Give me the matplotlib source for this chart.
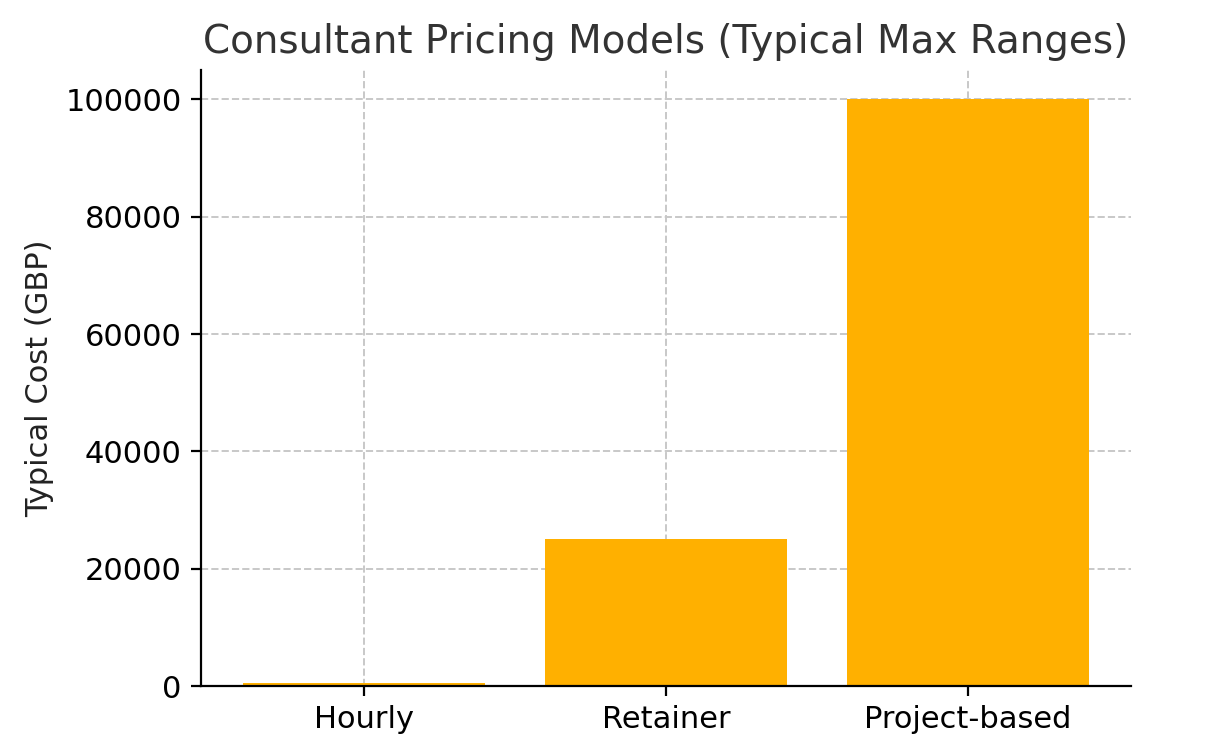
import matplotlib
matplotlib.use("Agg")
import matplotlib.pyplot as plt

categories = ["Hourly", "Retainer", "Project-based"]
values = [500, 25000, 100000]

fig = plt.figure(figsize=(6.08, 3.745), dpi=200)
ax = fig.add_axes([201/1216, 1-686/749, (1131-201)/1216, (686-70)/749])
ax.bar(categories, values, color="#FFB000", width=0.8, zorder=2)
ax.set_ylim(0, 105000)
ax.set_title("Consultant Pricing Models (Typical Max Ranges)", fontsize=14, color="#333333")
ax.set_ylabel("Typical Cost (GBP)", fontsize=11, color="#222222")
ax.tick_params(labelsize=11)
ax.grid(True, linestyle="--", color="#c8c8c8", linewidth=0.7, zorder=0)
for s in ["top", "right"]:
    ax.spines[s].set_visible(False)
fig.savefig("out.png", dpi=200)
